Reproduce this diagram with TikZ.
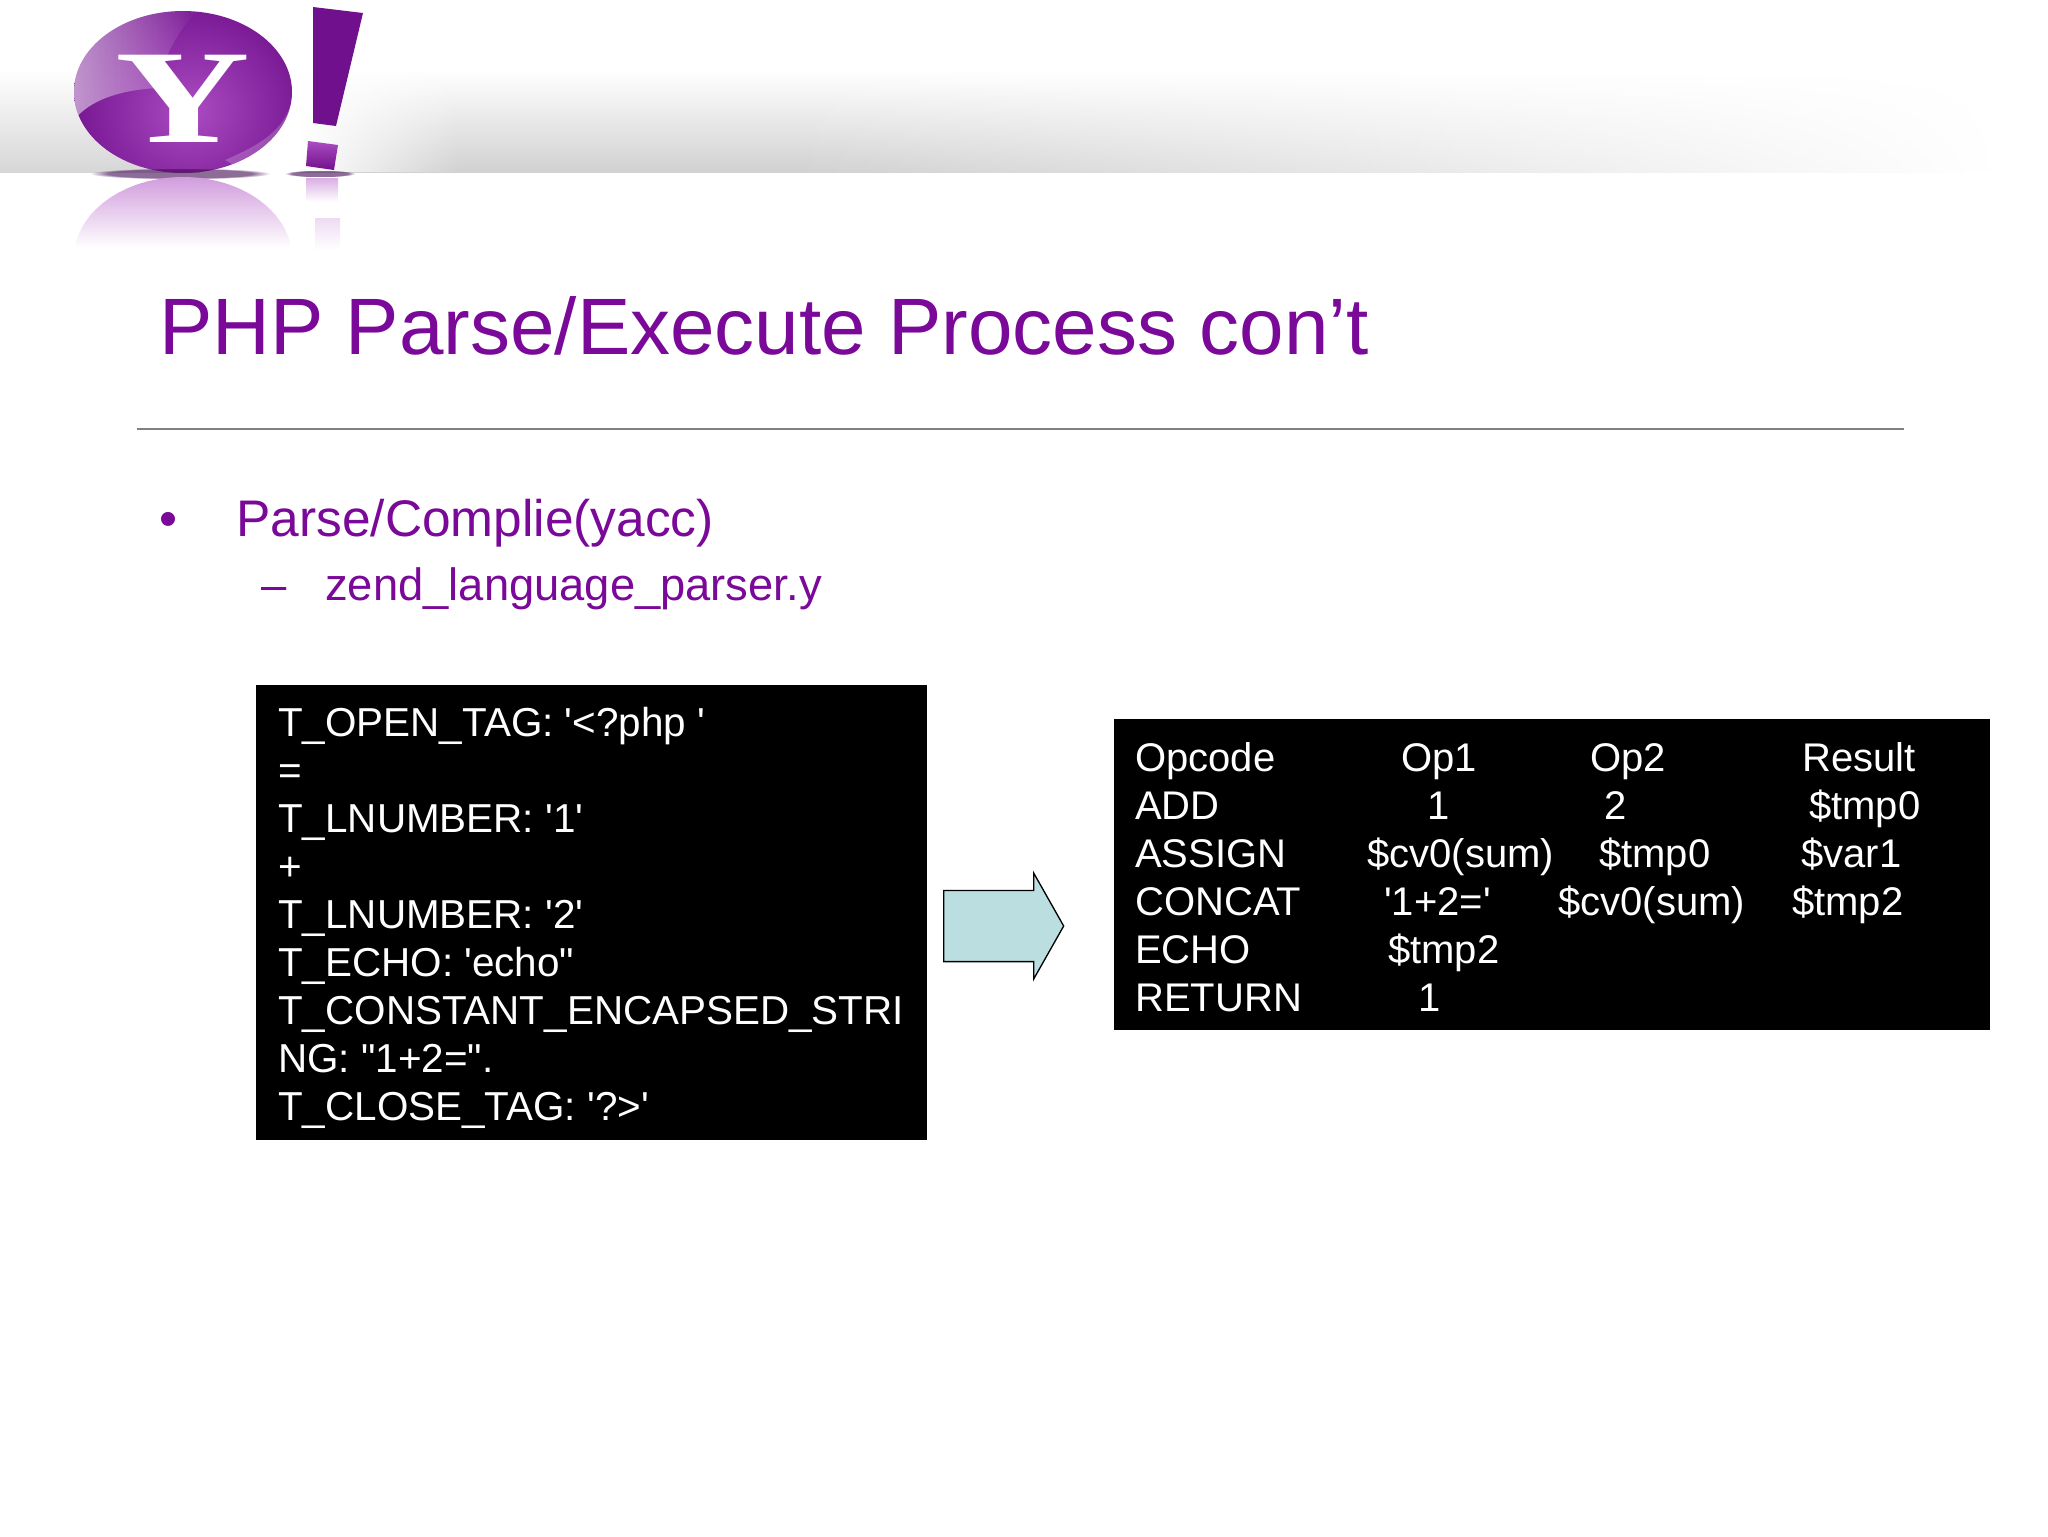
\documentclass[tikz,border=0pt]{standalone}
\usepackage{fontspec}
\setmainfont{Liberation Sans}
\newfontfamily\codefont{Liberation Sans}
\newfontfamily\logofont{Liberation Serif}
\usetikzlibrary{shapes.arrows,fadings}
\definecolor{titlepurple}{RGB}{122,8,152}
\definecolor{ballpurple}{RGB}{172,76,194}
\definecolor{balldark}{RGB}{112,16,140}
\definecolor{arrowblue}{RGB}{187,223,225}
\tikzset{
    titletext/.style={anchor=base west, text=titlepurple, inner sep=0pt, font=\fontsize{60}{70}\selectfont},
    itemtext/.style={anchor=base west, text=titlepurple, inner sep=0pt, font=\fontsize{38.6}{44}\selectfont},
    subtext/.style={anchor=base west, text=titlepurple, inner sep=0pt, font=\fontsize{34}{38}\selectfont},
    codetext/.style={anchor=base west, text=white, inner sep=0pt, font=\codefont\fontsize{30}{36}\selectfont},
}
\tikzfading[name=fadein, left color=transparent!0, right color=transparent!100]
\begin{document}
\begin{tikzpicture}[x=0.75pt,y=0.75pt,yscale=-1,xscale=1]
\useasboundingbox (0,0) rectangle (2048,1536);
%Header band
\shade[top color=white, bottom color=black!16] (0,70) rectangle (200,172);
\shade[top color=white, bottom color=black!18] (300,70) rectangle (800,172);
\shade[top color=white, bottom color=black!18, path fading=fadein] (799,70) rectangle (2000,172);
\fill[white, path fading=fadein] (300,60) rectangle (460,172);
%Logo
\begin{scope}
\clip (183,92) ellipse [x radius=109, y radius=81];
\shade[inner color=ballpurple, outer color=balldark] (60,-10) rectangle (320,230);
\fill[white, opacity=0.55, path fading=east] (74,11) -- (197,11) .. controls (170,40) and (160,70) .. (158,88) .. controls (120,90) and (90,100) .. (74,120) -- cycle;
\fill[white, opacity=0.2] (292,100) .. controls (285,130) and (260,145) .. (225,160) -- (260,180) -- (300,150) -- cycle;
\end{scope}
\fill[balldark!60!black, opacity=0.6, path fading=circle with fuzzy edge 20 percent] (90,168) rectangle (270,179);
\fill[balldark!60!black, opacity=0.6, path fading=circle with fuzzy edge 20 percent] (285,170) rectangle (355,177);
\node[text=white, inner sep=0pt, xscale=1.4, font=\logofont\bfseries\fontsize{100}{100}\selectfont] (logoY) at (183,99) {Y};
\fill[balldark] (313,7) -- (363,13) -- (336,126) -- (313,123) -- cycle;
\shade[top color=ballpurple, bottom color=balldark] (308,141) -- (338,145) -- (334,170) -- (306,166) -- cycle;
%Reflection
\begin{scope}
\clip (183,258) ellipse [x radius=109, y radius=81];
\shade[top color=ballpurple!55!white, bottom color=white] (60,177) rectangle (310,248);
\end{scope}
\shade[top color=ballpurple!45!white, bottom color=white] (306,178) rectangle (338,202);
\shade[top color=ballpurple!20!white, bottom color=white] (315,218) rectangle (340,250);
%Title
\node[titletext] (title) at (159,354) {PHP Parse/Execute Process con’t};
\coordinate (ruleleft) at (137,429);
\coordinate (ruleright) at (1904,429);
\draw[black!50, line width=1.5pt] (ruleleft) -- (ruleright);
%Items
\node[itemtext] (bullet) at (159,536) {•};
\node[itemtext] (parseitem) at (236,536) {Parse/Complie(yacc)};
\node[subtext] (dash) at (261,600) {–};
\node[subtext] (zenditem) at (325,600) {zend\_language\_parser.y};
%Boxes
\fill[black] (256,685) rectangle (927,1140);
\fill[black] (1114,719) rectangle (1990,1030);
\node[codetext, align=left, anchor=north west, font=\codefont\fontsize{30.3}{36}\selectfont] (tokens) at (278,707) {T\_OPEN\_TAG: '<?php '\\=\\T\_LNUMBER: '1'\\+\\T\_LNUMBER: '2'\\T\_ECHO: 'echo"\\T\_CONSTANT\_ENCAPSED\_STRI\\NG: "1+2=".\\T\_CLOSE\_TAG: '?>'};
%Arrow
\node[single arrow, draw=black, fill=arrowblue, line width=1pt, minimum height=90pt, minimum width=79.5pt, inner xsep=0pt, inner ysep=19.9pt, single arrow tip angle=121, single arrow head extend=10pt, anchor=tail] (bigarrow) at (943,926) {};
%Opcode table
\foreach \rowy/\name in {771/Opcode,819/ADD,867/ASSIGN,915/CONCAT,963/ECHO,1011/RETURN}
    \node[codetext] (row\name) at (1135,\rowy) {\name};
\node[codetext] (opone) at (1401,771) {Op1};
\node[codetext] (optwo) at (1590,771) {Op2};
\node[codetext] (result) at (1802,771) {Result};
\node[codetext] (addone) at (1427,819) {1};
\node[codetext] (addtwo) at (1604,819) {2};
\node[codetext] (addres) at (1809,819) {\$tmp0};
\node[codetext] (asgone) at (1367,867) {\$cv0(sum)};
\node[codetext] (asgtwo) at (1599,867) {\$tmp0};
\node[codetext] (asgres) at (1801,867) {\$var1};
\node[codetext] (conone) at (1384,915) {'1+2='};
\node[codetext] (contwo) at (1558,915) {\$cv0(sum)};
\node[codetext] (conres) at (1792,915) {\$tmp2};
\node[codetext] (echoone) at (1388,963) {\$tmp2};
\node[codetext] (retone) at (1418,1011) {1};
\end{tikzpicture}
\end{document}
